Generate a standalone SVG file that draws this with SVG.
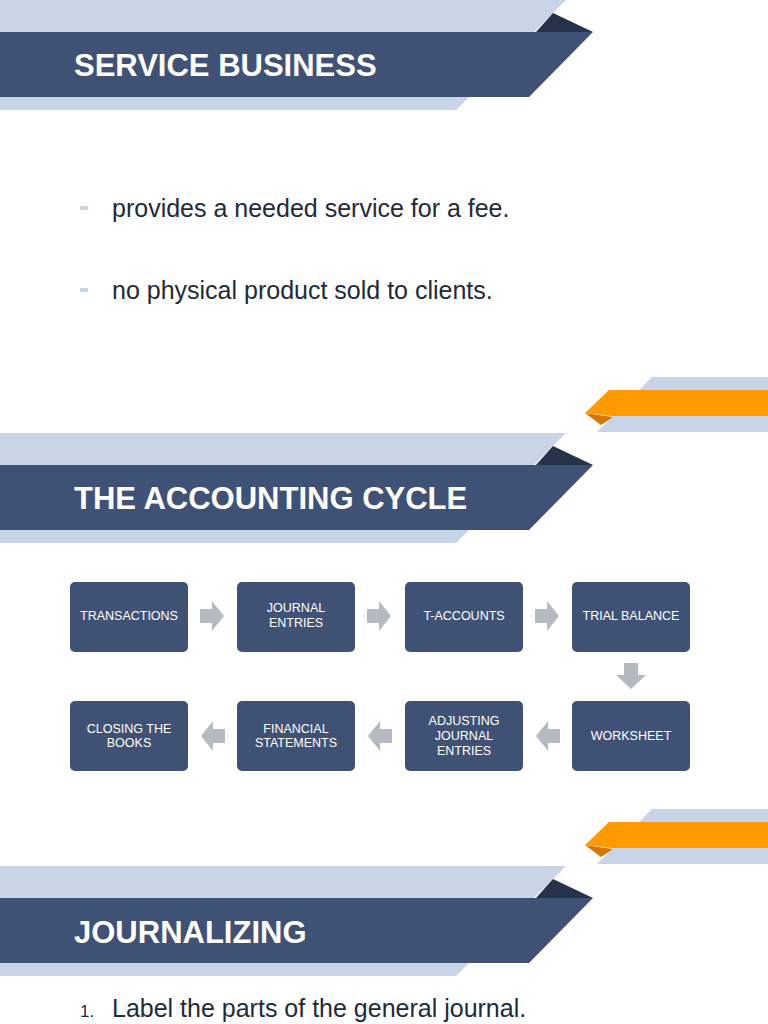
<svg xmlns="http://www.w3.org/2000/svg" width="768" height="1024" viewBox="0 0 768 1024">
<defs>
<style>
.lt{fill:#c9d5e7}.dk{fill:#3f5276}.tri{fill:#26324a}.or{fill:#ff9a00}.ord{fill:#d27800}
.ttl{font-family:"Liberation Sans",Arial,sans-serif;font-weight:bold;font-size:31px;fill:#fff}
.body{font-family:"Liberation Sans",Arial,sans-serif;font-size:25px;fill:#222a3a}
.node rect{fill:#3f5276}
.node text{font-family:"Liberation Sans",Arial,sans-serif;font-size:12.5px;fill:#fff;text-anchor:middle}
.arr{fill:#b4b9c2}
</style>
<g id="banner"><path class="lt" d="M0 0H566L456 110H0Z"/><path class="tri" d="M553 13L593 32H536Z"/><path class="dk" d="M0 32H593L529 97H0Z"/></g>
<g id="ribbon"><path class="lt" d="M652 377H768V432H597Z"/><path class="ord" d="M585 413L613 417L601 425Z"/><path class="or" d="M609 390H768V416H612L585 413Z"/></g>
</defs>
<rect width="768" height="1024" fill="#fff"/>
<use href="#banner"/>
<text class="ttl" x="74" y="76">SERVICE BUSINESS</text>
<rect x="80" y="206" width="8" height="4" fill="#c9d5e7"/>
<text class="body" x="112" y="217">provides a needed service for a fee.</text>
<rect x="80" y="288" width="8" height="4" fill="#c9d5e7"/>
<text class="body" x="112" y="299">no physical product sold to clients.</text>
<use href="#ribbon"/>
<use href="#banner" y="433"/>
<text class="ttl" x="74" y="509">THE ACCOUNTING CYCLE</text>
<g id="connectors">
<path class="arr" d="M200 609H212V601L224 616L212 631V623H200Z"/>
<path class="arr" d="M367 609H379V601L391 616L379 631V623H367Z"/>
<path class="arr" d="M535 609H547V601L559 616L547 631V623H535Z"/>
<path class="arr" d="M624 663V675H616L631 689L646 675H638V663Z"/>
<path class="arr" d="M560 729H548V721L536 736L548 751V743H560Z"/>
<path class="arr" d="M392 729H380V721L368 736L380 751V743H392Z"/>
<path class="arr" d="M225 729H213V721L201 736L213 751V743H225Z"/>
</g>
<g id="n1" class="node"><rect x="70" y="582" width="118" height="70" rx="5"/><text x="129" y="620">TRANSACTIONS</text></g>
<g id="n2" class="node"><rect x="237" y="582" width="118" height="70" rx="5"/><text x="296" y="612">JOURNAL</text><text x="296" y="627">ENTRIES</text></g>
<g id="n3" class="node"><rect x="405" y="582" width="118" height="70" rx="5"/><text x="464" y="620">T-ACCOUNTS</text></g>
<g id="n4" class="node"><rect x="572" y="582" width="118" height="70" rx="5"/><text x="631" y="620">TRIAL BALANCE</text></g>
<g id="n5" class="node"><rect x="572" y="701" width="118" height="70" rx="5"/><text x="631" y="740">WORKSHEET</text></g>
<g id="n6" class="node"><rect x="405" y="701" width="118" height="70" rx="5"/><text x="464" y="725">ADJUSTING</text><text x="464" y="740">JOURNAL</text><text x="464" y="755">ENTRIES</text></g>
<g id="n7" class="node"><rect x="237" y="701" width="118" height="70" rx="5"/><text x="296" y="733">FINANCIAL</text><text x="296" y="747">STATEMENTS</text></g>
<g id="n8" class="node"><rect x="70" y="701" width="118" height="70" rx="5"/><text x="129" y="733">CLOSING THE</text><text x="129" y="747">BOOKS</text></g>
<use href="#ribbon" y="432"/>
<use href="#banner" y="866"/>
<text class="ttl" x="74" y="943">JOURNALIZING</text>
<text x="80" y="1017" font-family="Liberation Sans,Arial,sans-serif" font-size="17" fill="#222a3a">1.</text>
<text class="body" x="112" y="1017">Label the parts of the general journal.</text>
</svg>
